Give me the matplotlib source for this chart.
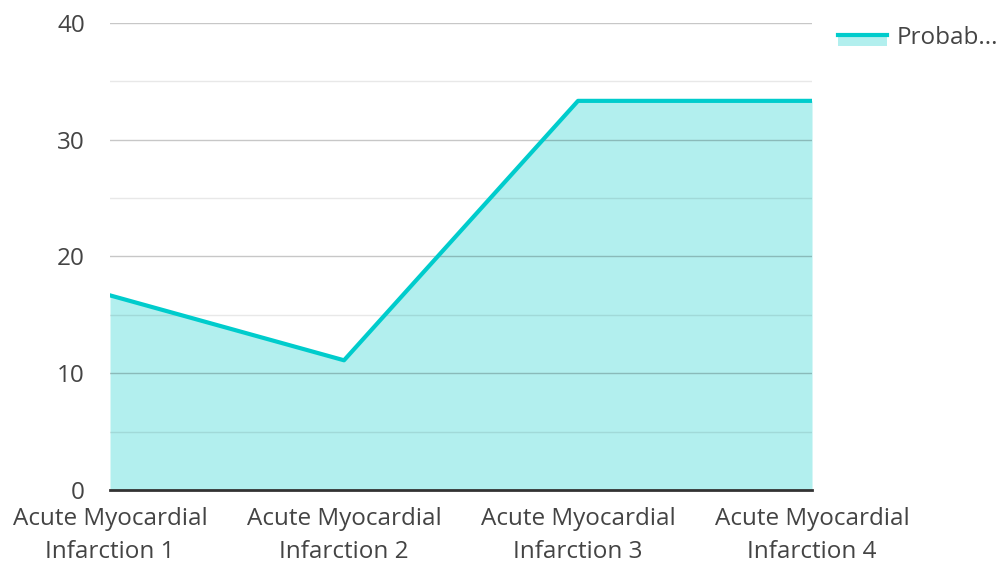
import matplotlib.pyplot as plt
from matplotlib.patches import Rectangle
from matplotlib.lines import Line2D
from matplotlib.legend_handler import HandlerBase
from matplotlib.ticker import MultipleLocator

categories = ['Acute Myocardial\nInfarction 1', 'Acute Myocardial\nInfarction 2',
              'Acute Myocardial\nInfarction 3', 'Acute Myocardial\nInfarction 4']
values = [16.67, 11.11, 33.33, 33.33]
series_name = 'Probab...'

plt.rcParams['font.family'] = ['Open Sans', 'DejaVu Sans']

line_col = '#00cccc'
fill_col = '#b2efee'
text_col = '#444444'


class AreaHandler(HandlerBase):
    # filled box with the line along its top edge
    def create_artists(self, legend, orig_handle, xdescent, ydescent,
                       width, height, fontsize, trans):
        mid = height * 0.55 - ydescent
        box = Rectangle((-xdescent, mid - height * 0.65), width, height * 0.65,
                        facecolor=fill_col, edgecolor='none', transform=trans)
        ln = Line2D([-xdescent, -xdescent + width], [mid, mid],
                    color=line_col, lw=3, transform=trans)
        return [box, ln]


fig = plt.figure(figsize=(10.02, 5.62), dpi=100)
ax = fig.add_axes([0.1098, 0.1281, 0.7006, 0.831])

x = list(range(len(values)))
ax.fill_between(x, values, 0, color=fill_col, lw=0, zorder=1)
ax.plot(x, values, color=line_col, lw=3, zorder=3)

ax.set_xlim(0, len(values) - 1)
ax.set_ylim(0, 40)
ax.set_xticks(x)
ax.set_xticklabels(categories, linespacing=1.5)
ax.yaxis.set_major_locator(MultipleLocator(10))
ax.yaxis.set_minor_locator(MultipleLocator(5))
ax.grid(axis='y', which='major', color='#000000', alpha=0.22, lw=1, zorder=2)
ax.grid(axis='y', which='minor', color='#000000', alpha=0.09, lw=1, zorder=2)
ax.set_axisbelow(False)

for s in ['top', 'right', 'left']:
    ax.spines[s].set_visible(False)
ax.spines['bottom'].set_color('#333333')
ax.spines['bottom'].set_linewidth(2)
ax.spines['bottom'].set_zorder(4)

ax.tick_params(axis='both', which='both', length=0, labelsize=17.5, colors=text_col)
ax.tick_params(axis='y', pad=18)
ax.tick_params(axis='x', pad=12)

leg = fig.legend([object()], [series_name], handler_map={object: AreaHandler()},
                 loc='upper left', bbox_to_anchor=(0.836, 0.953), frameon=False,
                 fontsize=17.5, handlelength=2.05, handletextpad=0.38,
                 labelcolor=text_col, borderaxespad=0, borderpad=0)

fig.savefig('out.png', dpi=100)
